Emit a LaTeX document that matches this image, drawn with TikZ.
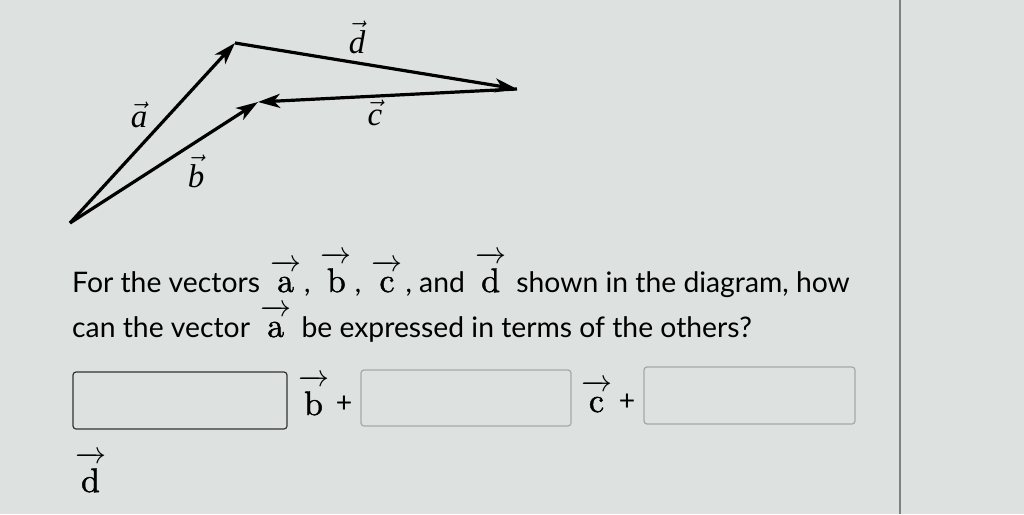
\RequirePackage{fix-cm}
\documentclass[tikz,border=0pt]{standalone}
\usepackage[no-math]{fontspec}
\setmainfont{Lato}
\newfontfamily\lmten{lmroman10-regular.otf}[FakeBold=1.2]
\newfontfamily\libserif{Liberation Serif}
\usetikzlibrary{arrows.meta}
\definecolor{bg}{RGB}{221,226,225}
\definecolor{sepline}{RGB}{125,130,132}
\definecolor{boxgray}{RGB}{165,168,168}
\definecolor{boxdark}{RGB}{55,50,50}
\newcommand\vecr[1]{\hspace{3pt}{\fontsize{31}{31}\selectfont$\overrightarrow{\raisebox{0pt}[\dimexpr\height+6pt\relax][\depth]{\makebox[29pt]{\fontsize{34}{34}\selectfont\lmten #1}}}$}\hspace{3pt}}
\newcommand\vlab[1]{$\vec{\mbox{\libserif\itshape #1}}$}
\tikzset{
  vecline/.style={line width=3.2pt, -{Stealth[length=22pt,width=14pt,inset=6pt]}},
  vlabel/.style={anchor=base, font=\fontsize{33}{33}\selectfont, inner sep=0pt},
  qtext/.style={anchor=base west, inner sep=0pt, font=\fontsize{28.3}{34}\selectfont},
  ansbox/.style={draw, line width=1.2pt, rounded corners=3pt, inner sep=0pt},
  mtext/.style={anchor=base, inner sep=0pt, font=\fontsize{28.3}{34}\selectfont}
}
\begin{document}
\begin{tikzpicture}[x=1pt,y=-1pt]
\fill[bg] (0,0) rectangle (1024,514);
\useasboundingbox (0,0) rectangle (1024,514);
\coordinate (sepTop) at (900,0);
\coordinate (sepBot) at (900,514);
\draw[sepline, line width=1.5pt] (sepTop) -- (sepBot);
% vectors
\coordinate (O) at (70,223);
\coordinate (A) at (235,43);
\coordinate (D) at (517,89);
\coordinate (C) at (258,102);
\draw[vecline] (O) -- (A);
\draw[vecline] (A) -- (D);
\draw[vecline] (D) -- (C);
\draw[vecline] (O) -- (C);
\node[vlabel] (la) at (139,127) {\vlab{a}};
\node[vlabel] (lb) at (196,187) {\vlab{b}};
\node[vlabel] (lc) at (375,125) {\vlab{c}};
\node[vlabel] (ld) at (357,53) {\vlab{d}};
% question
\node[qtext] (q1) at (72,292) {For the vectors \vecr{a}, \vecr{b}, \vecr{c}, and \vecr{d} shown in the diagram, how};
\node[qtext] (q2) at (72,337) {can the vector \vecr{a} be expressed in terms of the others?};
% answer row
\node[ansbox, draw=boxdark, minimum width=214pt, minimum height=57pt] (box1) at (180,400.5) {};
\node[mtext] (vb) at (312,415) {\vecr{b}};
\node[mtext] (p1) at (344,412) {+};
\node[ansbox, draw=boxgray, minimum width=210pt, minimum height=56pt] (box2) at (466,398) {};
\node[mtext] (vc) at (595,412) {\vecr{c}};
\node[mtext] (p2) at (627,410) {+};
\node[ansbox, draw=boxgray, minimum width=211pt, minimum height=57pt] (box3) at (749.5,395.5) {};
\node[mtext] (vd) at (89,492) {\vecr{d}};
\end{tikzpicture}
\end{document}
